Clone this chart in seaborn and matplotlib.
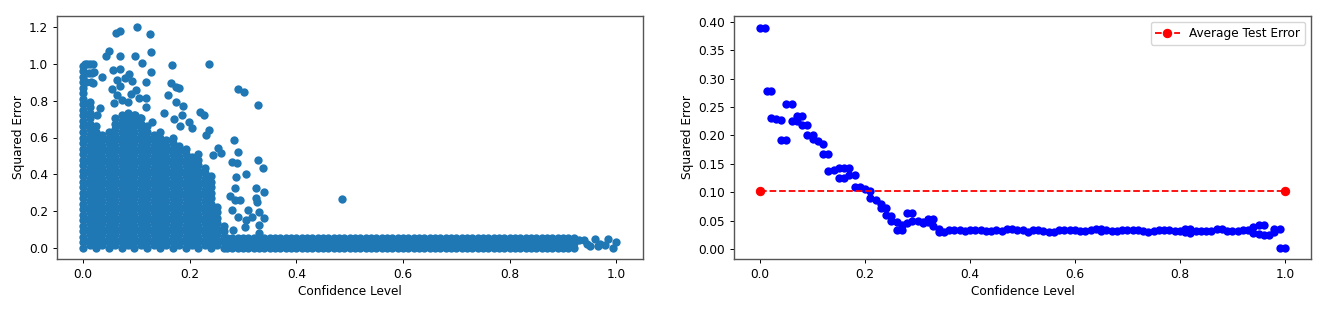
import matplotlib
matplotlib.use("Agg")
import matplotlib.pyplot as plt
import seaborn as sns

plt.rcParams.update({"font.family": "DejaVu Sans", "font.size": 8.7, "axes.linewidth": 1.0,
                     "axes.edgecolor": "#555555", "xtick.major.size": 3, "ytick.major.size": 3,
                     "xtick.major.width": 0.7, "ytick.major.width": 0.7})

X_LABEL = "Confidence Level"
Y_LABEL = "Squared Error"
LEGEND_LABEL = "Average Test Error"
LEFT_XTICKS = [0.0, 0.2, 0.4, 0.6, 0.8, 1.0]
LEFT_YTICKS = [0.0, 0.2, 0.4, 0.6, 0.8, 1.0, 1.2]
RIGHT_YTICKS = [0.0, 0.05, 0.10, 0.15, 0.20, 0.25, 0.30, 0.35, 0.40]

# Left panel: overplotted mass, read as columns of points
LEVELS_A = [0, .03, .06, .09, .12, .15, .18, .21, .24, .27, .30, .33, .36, .39, .42, .45, .48,
            .51, .54, .57, .60, .63, .66, .69, .72, .75, .78, .81, .84, .87, .90, .93, .96, .99]
LEVELS_B = [.015, .045, .075, .105, .135, .165, .195, .225, .255, .285, .315, .345, .375, .405,
            .435, .465, .495, .525, .555, .585, .615, .645, .675, .705, .735, .765, .795, .825]
COLUMN_X = [0, .012, .024, .036, .048, .06, .072, .084, .096, .108, .12, .132, .144, .156,
            .168, .18, .192, .204, .216, .228, .24, .252, .264]
COLUMN_COUNT = [34, 27, 23, 21, 22, 24, 25, 24, 25, 24, 23, 21, 22, 20, 21, 19, 19, 17, 18, 15, 14, 8, 5]

# Left panel: the band along the bottom
BAND_X = [.27, .28, .29, .30, .31, .32, .33, .34, .35, .36, .37, .38, .39, .40, .41, .42, .43, .44,
          .45, .46, .47, .48, .49, .50, .51, .52, .53, .54, .55, .56, .57, .58, .59, .60, .61, .62,
          .63, .64, .65, .66, .67, .68, .69, .70, .71, .72, .73, .74, .75, .76, .77, .78, .79, .80,
          .81, .82, .83, .84, .85, .86, .87, .88, .89, .90, .91, .92]
BAND_LEVELS = [0.0, .026, .052]

# Left panel: individually visible points
SINGLE_X = [.101, .125, .061, .069, .049, .042, .069, .097, .127, .111, .166, .237, .127, .056, .069, .086,
            .1175, .079, .091, .064, .036, .165, .174, .18, .291, .301, .3275, .159, .175, .188, .186,
            .219, .226, .151, .171, .199, .204, .1825, .237, .23, .2825, .29, .2525, .259, .243, .328,
            .338, .28, .289, .287, .306, .325, .339, .285, .276, .294, .285, .324, .327, .34, .486, .279,
            .291, .31, .329, .306, .329, .282, .329, .304, .316, .0325, .0256, .019, .021, .054, .07, .1,
            .09, .118, .104, .117, .057, .085, .0725, .063, .129, .085, .0975, .107, .003, .008, .013,
            .018, .004, .011, .016, .006, .014, .93, .94, .945, .95, .96, .965, .97, .985, .978, .993, 1.0]
SINGLE_Y = [1.2, 1.162, 1.169, 1.178, 1.07, 1.042, 1.04, 1.042, 1.066, 1.003, .995, 1.0, .956, .965, .972, .945,
            .903, .925, .907, .912, .928, .894, .876, .867, .863, .845, .778, .83, .793, .773, .72,
            .74, .724, .731, .70, .686, .65, .662, .64, .613, .588, .52, .541, .516, .503, .476,
            .436, .469, .46, .384, .40, .324, .302, .324, .284, .26, .26, .27, .25, .161, .264, .206,
            .17, .206, .197, .152, .125, .098, .08, .116, .17, .758, .722, .894, .957, .863, .88, .858,
            .834, .813, .813, .767, .785, .795, .804, .83, .686, .731, .722, .704, 1.0, 1.0, 1.0,
            1.0, .95, .95, .95, .9, .9, .045, .045, .02, .012, .047, .012, .02, .047, .018, .002, .03]

# Right panel: binned points
BIN_X = [0, .01, .012, .02, .02, .03, .04, .04, .05, .05, .06, .06, .07, .07, .08, .08, .09, .09, .10, .10,
         .11, .12, .12, .13, .13, .14, .15, .15, .16, .16, .17, .17, .18, .18, .19, .20, .21, .21, .22, .23,
         .23, .24, .24, .25, .25, .26, .26, .27, .27, .28, .28, .29, .29, .30, .31, .31, .32, .32, .33, .33,
         .34, .34, .35, .36, .37, .38, .39, .40, .41, .42, .43, .44, .45, .46, .47, .48, .49, .50, .51, .52,
         .53, .54, .55, .56, .57, .58, .59, .60, .61, .62, .63, .64, .65, .65, .66, .67, .68, .69, .70, .71,
         .72, .73, .74, .75, .76, .77, .78, .79, .80, .81, .81, .82, .82, .83, .84, .85, .86, .87, .88, .89,
         .90, .91, .92, .93, .94, .94, .95, .95, .96, .96, .97, .98, .98, .99, .99, 1.0]
BIN_Y = [.39, .39, .279, .279, .231, .229, .228, .192, .192, .255, .255, .225, .225, .235, .235, .218, .218, .2, .2, .194,
         .19, .185, .168, .168, .137, .14, .142, .125, .125, .143, .143, .13, .13, .11, .11, .105, .103, .09, .087, .08,
         .073, .072, .06, .058, .05, .048, .033, .033, .043, .045, .063, .063, .05, .05, .048, .045, .048, .052, .052, .04,
         .036, .03, .03, .033, .033, .033, .032, .034, .033, .034, .032, .032, .033, .032, .036, .036, .034, .033, .030, .033,
         .033, .031, .030, .030, .033, .033, .034, .033, .031, .031, .034, .035, .031, .035, .033, .031, .032, .033, .034, .033,
         .033, .032, .030, .032, .034, .034, .034, .032, .032, .036, .030, .036, .029, .031, .031, .032, .032, .036, .036, .032,
         .032, .032, .034, .034, .039, .028, .042, .027, .042, .024, .024, .030, .036, .035, .002, .002]

AVG_X = [0.0, 1.0]
AVG_Y = [.103, .103]

xs, ys = [], []
for i, (cx, n) in enumerate(zip(COLUMN_X, COLUMN_COUNT)):
    for y in (LEVELS_B if i % 2 else LEVELS_A)[:n]:
        xs.append(cx)
        ys.append(y)
for y in BAND_LEVELS:
    for bx in BAND_X:
        xs.append(bx)
        ys.append(y)
xs += SINGLE_X
ys += SINGLE_Y

W, H = 1328, 311
fig = plt.figure(figsize=(W / 100, H / 100), dpi=100)
ax1 = fig.add_axes([57 / W, 1 - 259 / H, 586 / W, 243 / H])
ax2 = fig.add_axes([734 / W, 1 - 259 / H, 577 / W, 243 / H])

sns.scatterplot(x=xs, y=ys, ax=ax1, color="#1f77b4", s=36, linewidth=0)
ax1.set_xlim(-.049, 1.05)
ax1.set_ylim(-.06, 1.26)
ax1.set_xticks(LEFT_XTICKS)
ax1.set_yticks(LEFT_YTICKS)

sns.scatterplot(x=BIN_X, y=BIN_Y, ax=ax2, color="blue", s=36, linewidth=0)
sns.lineplot(x=AVG_X, y=AVG_Y, ax=ax2, color="red", marker="o", linestyle="--", linewidth=1.3,
             markersize=6, markeredgecolor="red", label=LEGEND_LABEL)
ax2.set_xlim(-.05, 1.05)
ax2.set_ylim(-.0176, .4105)
ax2.set_xticks(LEFT_XTICKS)
ax2.set_yticks(RIGHT_YTICKS)
ax2.set_yticklabels([f"{v:.2f}" for v in RIGHT_YTICKS])
ax2.legend(loc="upper right", fontsize=8.7)

for ax in (ax1, ax2):
    ax.set_xlabel(X_LABEL, labelpad=3)
    ax.set_ylabel(Y_LABEL, labelpad=3)

fig.savefig("out.png", dpi=100)
